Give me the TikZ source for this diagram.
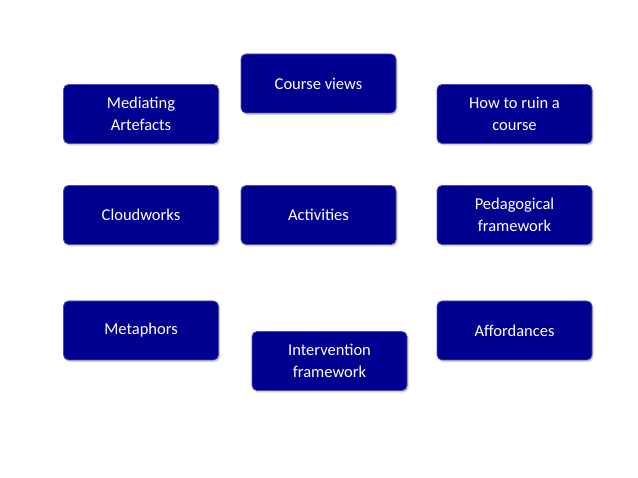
\documentclass[tikz,border=0pt]{standalone}
\usepackage{fontspec}
\setmainfont{Carlito}
\usetikzlibrary{shadows}
\definecolor{navy}{HTML}{000090}
\begin{document}
\begin{tikzpicture}[x=1pt,y=-1pt,
  box/.style={draw=navy!70!white,line width=0.8pt,fill=navy,rounded corners=5pt,text=white,
    minimum width=155pt,minimum height=59pt,align=center,inner sep=2pt,
    font=\fontsize{16.5}{22}\selectfont,
    drop shadow={shadow xshift=1.5pt,shadow yshift=-2pt,fill=black!35}}]
\useasboundingbox (0,0) rectangle (638,478);
\node[box] (ma) at (141,114) {Mediating\\Artefacts};
\node[box] (cv) at (318.5,83.5) {Course views};
\node[box] (hr) at (514.5,114) {How to ruin a\\course};
\node[box] (cw) at (141,215) {Cloudworks};
\node[box] (ac) at (318.5,215) {Activities};
\node[box] (pf) at (514.5,215) {Pedagogical\\framework};
\node[box] (me) at (141,330.5) {Metaphors};
\node[box] (if) at (329.5,361) {Intervention\\framework};
\node[box] (af) at (514.5,330.5) {Affordances};
\end{tikzpicture}
\end{document}
